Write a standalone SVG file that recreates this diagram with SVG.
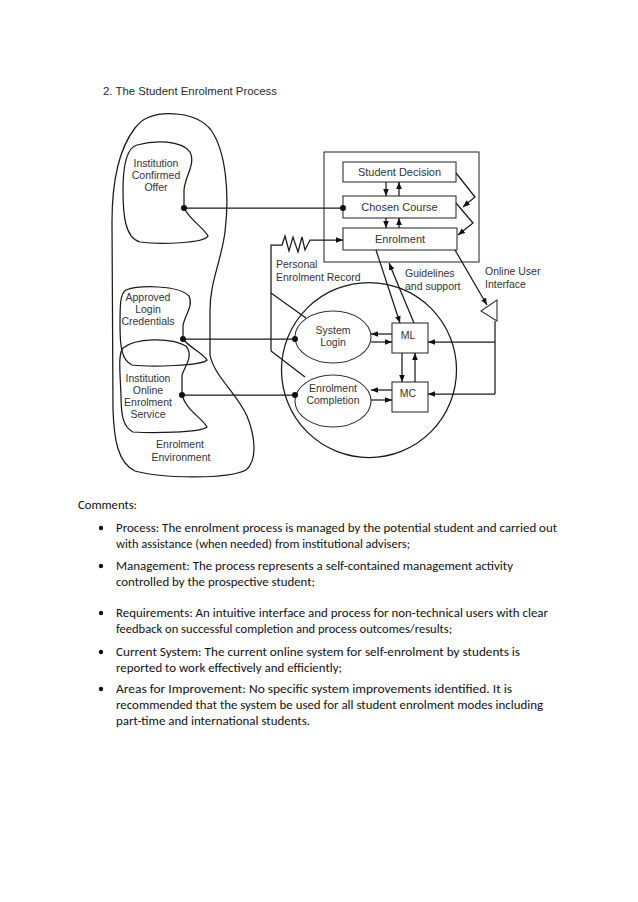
<svg xmlns="http://www.w3.org/2000/svg" width="638" height="902" viewBox="0 0 638 902">
<style>
.ln{fill:none;stroke:#1a1a1a;stroke-width:1.25}
.bx{fill:#fff;stroke:#333;stroke-width:1.1}
.t{font-family:"Liberation Sans",Arial,sans-serif;font-size:10.5px;fill:#333}
.tb{font-family:"Liberation Sans",Arial,sans-serif;font-size:11px;fill:#333}
.tm{font-family:"Liberation Sans",Arial,sans-serif;font-size:10.5px;fill:#333;text-anchor:middle}
.c{font-family:Carlito,Lato,"Liberation Sans",sans-serif;font-size:12px;fill:#111}
.dot{fill:#111}
</style>
<defs>
<marker id="ah" viewBox="0 0 10 10" refX="10" refY="5" markerWidth="7" markerHeight="7" markerUnits="userSpaceOnUse" orient="auto"><path d="M0,1 L10,5 L0,9 z" fill="#111"/></marker>
</defs>
<rect width="638" height="902" fill="#fff"/>
<text x="103" y="95" class="tb" style="font-size:11.4px;fill:#2a2a2a" textLength="174" lengthAdjust="spacingAndGlyphs">2. The Student Enrolment Process</text>

<g id="enrolment-environment">
<path class="ln" d="M147,118 C162,111 196,111 211,130 C225,150 230,190 225,232 C221,262 210,282 210,310 L210,355 C214,376 236,392 247,416 C255,436 258,460 246,470 C226,480 160,478 135,471 C118,463 114,440 113,410 L112,222 C112,182 118,150 135,128 C139,123 142,120 147,118 Z"/>
<text class="tm" x="180" y="448">Enrolment</text>
<text class="tm" x="181" y="461">Environment</text>
</g>

<g id="institution-confirmed-offer">
<path class="ln" d="M137,145 C155,140 181,140 190,152 C196,164 185,176 184,190 L184,208 C190,220 204,228 208,236 C205,243 160,245 140,242 C125,238 123,215 123,190 C123,166 126,148 137,145 Z"/>
<text class="tm" x="156" y="167">Institution</text>
<text class="tm" x="156" y="179">Confirmed</text>
<text class="tm" x="156" y="191">Offer</text>
</g>

<g id="approved-login-credentials">
<path class="ln" d="M126,290 C140,285 178,285 189,296 C194,306 184,316 183,326 L183,339 C190,348 203,353 207,360 C202,366 150,367 132,365 C121,360 120,345 120,325 C120,305 120,294 126,290 Z"/>
<text class="tm" x="148" y="301">Approved</text>
<text class="tm" x="148" y="313">Login</text>
<text class="tm" x="148" y="325">Credentials</text>
</g>

<g id="institution-online-enrolment-service">
<path class="ln" d="M123,348 C135,338 170,337 186,346 C194,356 185,366 182,375 L182,395 C186,410 202,418 207,427 C200,433 150,433 133,432 C123,427 121,415 121,395 C120,372 118,354 123,348 Z"/>
<text class="tm" x="148" y="382">Institution</text>
<text class="tm" x="148" y="394">Online</text>
<text class="tm" x="148" y="406">Enrolment</text>
<text class="tm" x="148" y="418">Service</text>
</g>

<g id="online-user-interface-box">
<rect class="bx" x="324" y="152" width="155" height="110" fill="none"/>
</g>
<g id="student-decision">
<rect class="bx" x="343" y="162" width="113" height="20"/>
<text class="tb" x="399.5" y="176" text-anchor="middle">Student Decision</text>
</g>
<g id="chosen-course">
<rect class="bx" x="343" y="196" width="113" height="22"/>
<text class="tb" x="399.5" y="211" text-anchor="middle">Chosen Course</text>
</g>
<g id="enrolment">
<rect class="bx" x="343" y="228" width="114" height="22"/>
<text class="tb" x="400" y="243" text-anchor="middle">Enrolment</text>
</g>

<g id="personal-enrolment-record">
<text class="t" x="276" y="268">Personal</text>
<text class="t" x="276" y="281">Enrolment  Record</text>
</g>
<g id="guidelines-and-support">
<text class="t" x="405" y="277">Guidelines</text>
<text class="t" x="405" y="290">and support</text>
</g>

<g id="management-circle">
<circle class="ln" cx="369" cy="370" r="87.5"/>
</g>
<g id="system-login">
<ellipse class="bx" cx="333" cy="337" rx="38" ry="26"/>
<text class="tm" x="333" y="334">System</text>
<text class="tm" x="333" y="346">Login</text>
</g>
<g id="enrolment-completion">
<ellipse class="bx" cx="333" cy="401" rx="38" ry="26"/>
<text class="tm" x="333" y="392">Enrolment</text>
<text class="tm" x="333" y="404">Completion</text>
</g>
<g id="ml">
<rect class="bx" x="392" y="323" width="36" height="30"/>
<text class="tm" x="408" y="339">ML</text>
</g>
<g id="mc">
<rect class="bx" x="392" y="382" width="36" height="30"/>
<text class="tm" x="408" y="397">MC</text>
</g>
<g id="online-user-interface">
<path class="bx" d="M481,311 L497,300 L497,321 Z"/>
<text class="t" x="485" y="275">Online User</text>
<text class="t" x="485" y="288">Interface</text>
</g>

<g id="connectors">
<line class="ln" x1="184" y1="208" x2="343" y2="208"/>
<circle class="dot" cx="184" cy="208" r="3"/>
<circle class="dot" cx="343" cy="208" r="3"/>
<line class="ln" x1="183" y1="339" x2="295" y2="339"/>
<circle class="dot" cx="183" cy="339" r="3"/>
<circle class="dot" cx="295" cy="339" r="3"/>
<line class="ln" x1="182" y1="395" x2="295" y2="395"/>
<circle class="dot" cx="182" cy="395" r="3"/>
<circle class="dot" cx="295" cy="395" r="3"/>
<line class="ln" x1="386" y1="182" x2="386" y2="196" marker-end="url(#ah)"/>
<line class="ln" x1="399" y1="196" x2="399" y2="182" marker-end="url(#ah)"/>
<line class="ln" x1="386" y1="218" x2="386" y2="228" marker-end="url(#ah)"/>
<line class="ln" x1="399" y1="228" x2="399" y2="218" marker-end="url(#ah)"/>
<polyline class="ln" points="456,173 475,197 463,207" marker-end="url(#ah)"/>
<polyline class="ln" points="456,203 473,223 458,235" marker-end="url(#ah)"/>
<line class="ln" x1="455" y1="250" x2="487" y2="305" marker-end="url(#ah)"/>
<polyline class="ln" points="271,293 271,245 282,245 285,236 289,251 293,237 298,252 302,237 305,250 310,240 343,240" marker-end="url(#ah)"/>
<polyline class="ln" points="271,293 271,351"/>
<line class="ln" x1="271" y1="293" x2="306" y2="318"/>
<line class="ln" x1="271" y1="351" x2="305" y2="377"/>
<line class="ln" x1="376" y1="250" x2="400" y2="323" marker-end="url(#ah)"/>
<line class="ln" x1="414" y1="323" x2="389" y2="263" marker-end="url(#ah)"/>
<line class="ln" x1="392" y1="334" x2="371" y2="334" marker-end="url(#ah)"/>
<line class="ln" x1="371" y1="342" x2="392" y2="342" marker-end="url(#ah)"/>
<line class="ln" x1="392" y1="390" x2="371" y2="390" marker-end="url(#ah)"/>
<line class="ln" x1="371" y1="400" x2="392" y2="400" marker-end="url(#ah)"/>
<line class="ln" x1="402" y1="353" x2="402" y2="382" marker-end="url(#ah)"/>
<line class="ln" x1="415" y1="382" x2="415" y2="353" marker-end="url(#ah)"/>
<polyline class="ln" points="495,321 495,394"/>
<line class="ln" x1="495" y1="342" x2="428" y2="342" marker-end="url(#ah)"/>
<line class="ln" x1="495" y1="394" x2="428" y2="394" marker-end="url(#ah)"/>
</g>

<g id="comments">
<text class="c" x="78" y="509" textLength="59" lengthAdjust="spacingAndGlyphs">Comments:</text>
<circle cx="101" cy="528" r="2.2" fill="#111"/>
<text class="c" x="116" y="532" textLength="441" lengthAdjust="spacingAndGlyphs">Process: The enrolment process is managed by the potential student and carried out</text>
<text class="c" x="116" y="548" textLength="294" lengthAdjust="spacingAndGlyphs">with assistance (when needed) from institutional advisers;</text>
<circle cx="101" cy="566" r="2.2" fill="#111"/>
<text class="c" x="116" y="570" textLength="397" lengthAdjust="spacingAndGlyphs">Management: The process represents a self-contained management activity</text>
<text class="c" x="116" y="586" textLength="199" lengthAdjust="spacingAndGlyphs">controlled by the prospective student;</text>
<circle cx="101" cy="613" r="2.2" fill="#111"/>
<text class="c" x="116" y="617" textLength="432" lengthAdjust="spacingAndGlyphs">Requirements: An intuitive interface and process for non-technical users with clear</text>
<text class="c" x="116" y="633" textLength="336" lengthAdjust="spacingAndGlyphs">feedback on successful completion and process outcomes/results;</text>
<circle cx="101" cy="652" r="2.2" fill="#111"/>
<text class="c" x="116" y="656" textLength="404" lengthAdjust="spacingAndGlyphs">Current System: The current online system for self-enrolment by students is</text>
<text class="c" x="116" y="672" textLength="226" lengthAdjust="spacingAndGlyphs">reported to work effectively and efficiently;</text>
<circle cx="101" cy="689" r="2.2" fill="#111"/>
<text class="c" x="116" y="693" textLength="396" lengthAdjust="spacingAndGlyphs">Areas for Improvement: No specific system improvements identified. It is</text>
<text class="c" x="116" y="709" textLength="427" lengthAdjust="spacingAndGlyphs">recommended that the system be used for all student enrolment modes including</text>
<text class="c" x="116" y="725" textLength="194" lengthAdjust="spacingAndGlyphs">part-time and international students.</text>
</g>
</svg>
